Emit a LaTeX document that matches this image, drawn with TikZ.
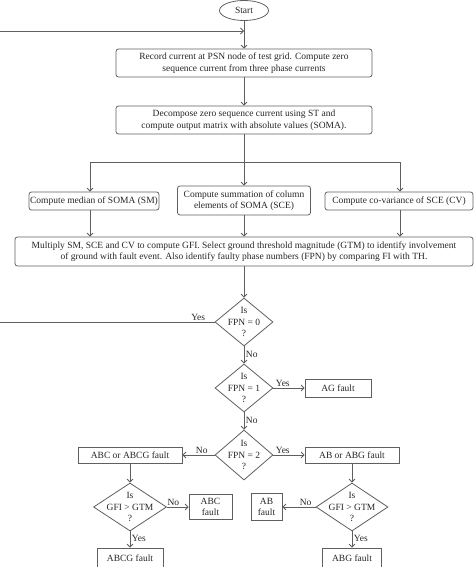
\documentclass[tikz,border=0pt]{standalone}
\usepackage{fontspec}
\setmainfont{Liberation Serif}
\usetikzlibrary{shapes.geometric,arrows.meta}
\definecolor{linegray}{RGB}{95,95,95}

\begin{document}
\begin{tikzpicture}[x=1pt,y=-1pt]
      %boxes, decisions and arrows
      \tikzset{
      base/.style={draw=linegray, line width=0.8pt, font=\fontsize{9.5}{11.5}\selectfont, text=black!85},
      stepbox/.style={base, rectangle, rounded corners=2.5pt, align=center, inner sep=0pt},
      faultbox/.style={base, rectangle, align=center, inner sep=0pt},
      decision/.style={base, diamond, inner sep=0pt},
      tag/.style={font=\fontsize{9.5}{11.5}\selectfont, text=black!85, inner sep=1.5pt},
      flow/.style={draw=linegray, line width=0.8pt, -{Straight Barb[length=3pt,width=6pt]}},
      link/.style={draw=linegray, line width=0.8pt},
      }
      \useasboundingbox (0,0) rectangle (474,567);
      \clip (0,0) rectangle (474,567);

      %Stage 1 - preprocessing
      \node[base, ellipse, minimum width=49, minimum height=20, inner sep=0pt] (start) at (244,10.5) {Start};
      \node[stepbox, minimum width=256, minimum height=28] (rec) at (244,63) {Record current at PSN node of test grid. Compute zero\\sequence current from three phase currents};
      \node[stepbox, minimum width=256, minimum height=28] (dec) at (244,120) {Decompose zero sequence current using ST and\\compute output matrix with absolute values (SOMA).};
      \coordinate (fbin) at (244,31);
      \draw[flow] (start) -- (rec);
      \draw[flow] (rec) -- (dec);

      %Stage 2 - features
      \node[stepbox, minimum width=130, minimum height=18] (sm) at (94,201) {Compute median of SOMA (SM)};
      \node[stepbox, minimum width=133, minimum height=29] (sce) at (244,200.5) {Compute summation of column\\elements of SOMA (SCE)};
      \node[stepbox, minimum width=148, minimum height=18] (cv) at (399,201) {Compute co-variance of SCE (CV)};
      \node[stepbox, minimum width=458, minimum height=29] (gfi) at (244,251.5) {Multiply SM, SCE and CV to compute GFI. Select ground threshold magnitude (GTM) to identify involvement\\of ground with fault event. Also identify faulty phase numbers (FPN) by comparing FI with TH.};
      \coordinate (jl) at (90,162);
      \coordinate (jm) at (244,162);
      \coordinate (jr) at (400,162);
      \draw[link] (jl) -- (jr);
      \draw[flow] (dec) -- (sce);
      \draw[flow] (jl) -- (jl |- sm.north);
      \draw[flow] (jr) -- (jr |- cv.north);
      \draw[flow] (sm.south -| jl) -- (jl |- gfi.north);
      \draw[flow] (sce) -- (gfi);
      \draw[flow] (cv.south -| jr) -- (jr |- gfi.north);

      %Stage 3 - phase number
      \node[decision, minimum width=58, minimum height=48, label={[tag,align=center]center:Is\\FPN = 0\\?}] (fpn0) at (244,322) {};
      \node[decision, minimum width=58, minimum height=48, label={[tag,align=center]center:Is\\FPN = 1\\?}] (fpn1) at (244,388) {};
      \node[decision, minimum width=58, minimum height=50, label={[tag,align=center]center:Is\\FPN = 2\\?}] (fpn2) at (244,455) {};
      \node[faultbox, minimum width=66, minimum height=18] (ag) at (338,388) {AG fault};
      \node[faultbox, minimum width=104, minimum height=16] (abc) at (130,455) {ABC or ABCG fault};
      \node[faultbox, minimum width=94, minimum height=16] (ab) at (352,455) {AB or ABG fault};
      \coordinate (loop) at (-20,322);
      \draw[flow] (gfi) -- (fpn0);
      \draw[flow] (fpn0.west) -- node[tag, above, pos=0.07] {Yes} (loop) |- (fbin);
      \draw[flow] (fpn0) -- node[tag, right, pos=0.45] {No} (fpn1);
      \draw[flow] (fpn1) -- node[tag, above, pos=0.3] {Yes} (ag);
      \draw[flow] (fpn1) -- node[tag, right, pos=0.45] {No} (fpn2);
      \draw[flow] (fpn2) -- node[tag, above, pos=0.4] {No} (abc);
      \draw[flow] (fpn2) -- node[tag, above, pos=0.3] {Yes} (ab);

      %Stage 4 - ground involvement
      \node[decision, minimum width=73, minimum height=48, label={[tag,align=center]center:Is\\GFI > GTM\\?}] (gtm1) at (130,507) {};
      \node[decision, minimum width=72, minimum height=48, label={[tag,align=center]center:Is\\GFI > GTM\\?}] (gtm2) at (352,507) {};
      \node[faultbox, minimum width=43, minimum height=25] (abcf) at (210.5,507) {ABC\\fault};
      \node[faultbox, minimum width=31, minimum height=27] (abf) at (266.5,507) {AB\\fault};
      \node[faultbox, minimum width=66, minimum height=20] (abcgf) at (130,558) {ABCG fault};
      \node[faultbox, minimum width=59, minimum height=20] (abgf) at (352,558) {ABG fault};
      \draw[flow] (abc) -- (gtm1);
      \draw[flow] (ab) -- (gtm2);
      \draw[flow] (gtm1) -- node[tag, above, pos=0.3] {No} (abcf);
      \draw[flow] (gtm2) -- node[tag, above, pos=0.3] {No} (abf);
      \draw[flow] (gtm1) -- node[tag, right, pos=0.45] {Yes} (abcgf);
      \draw[flow] (gtm2) -- node[tag, right, pos=0.45] {Yes} (abgf);
\end{tikzpicture}
\end{document}
